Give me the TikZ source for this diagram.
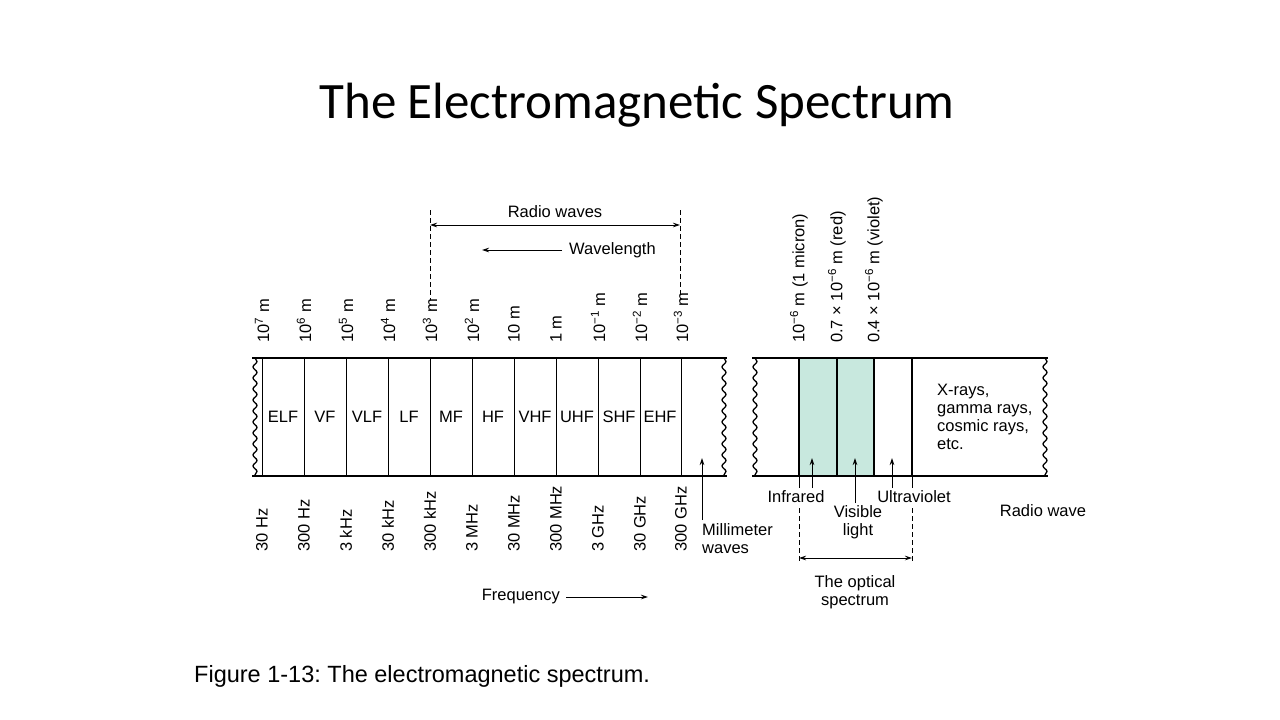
\documentclass[tikz,border=0pt]{standalone}
\usepackage{fontspec}
\setmainfont{Liberation Sans}
\newfontfamily\titlefont{Carlito}
\usetikzlibrary{decorations.pathmorphing,arrows.meta}
\newcommand{\sps}[1]{\textsuperscript{#1}}
\begin{document}
\frenchspacing
\begin{tikzpicture}[x=1pt,y=-1pt,
  lbl/.style={font=\fontsize{16.5}{18}\selectfont,inner sep=0pt},
  rl/.style={lbl,rotate=90,anchor=west},
  wavy/.style={decorate,decoration={snake,amplitude=2,segment length=11}},
  band/.style={line width=1.3pt},
  arr/.style={-{Stealth[length=7pt,width=4.5pt]},line width=0.8pt},
  dashln/.style={dash pattern=on 5pt off 3pt,line width=1pt}]
\useasboundingbox (0,0) rectangle (1280,720);
\node[font=\titlefont\fontsize{51}{56}\selectfont] (title) at (637,105) {The Electromagnetic Spectrum};
% left band
\draw[band] (252,358) -- (727,358) (252,476) -- (727,476);
\draw[band,wavy] (255,358) -- (255,476);
\draw[band,wavy] (724,358) -- (724,476);
\foreach \x in {262,304,346,388,430,472,514,556,598,640,681} \draw[line width=1pt] (\x,358) -- (\x,476);
\foreach \n/\x in {ELF/283,VF/325,VLF/367,LF/409,MF/451,HF/493,VHF/535,UHF/577,SHF/619,EHF/660}
  \node[lbl] (b\n) at (\x,417) {\n};
\foreach \x/\t in {262/{10\sps{7} m},304/{10\sps{6} m},346/{10\sps{5} m},388/{10\sps{4} m},430/{10\sps{3} m},472/{10\sps{2} m},514/{10 m},556/{1 m},598/{10\sps{\textminus 1} m},640/{10\sps{\textminus 2} m},681/{10\sps{\textminus 3} m}}
  \node[rl] at (\x,343) {\t};
\foreach \x/\t in {262/30 Hz,304/300 Hz,346/3 kHz,388/30 kHz,430/300 kHz,472/3 MHz,514/30 MHz,556/300 MHz,598/3 GHz,640/30 GHz,681/300 GHz}
  \node[rl] at (\x,552) {\t};
\coordinate (d1t) at (430,210); \coordinate (d1b) at (430,300);
\coordinate (d2t) at (680,210); \coordinate (d2b) at (680,300);
\draw[dashln] (d1t) -- (d1b); \draw[dashln] (d2t) -- (d2b);
\draw[{Stealth[length=7pt,width=4.5pt]}-{Stealth[length=7pt,width=4.5pt]},line width=0.8pt] (430,225) -- (680,225);
\node[lbl] (rw) at (555,212) {Radio waves};
\node[lbl,anchor=west] (wl) at (569,250) {Wavelength};
\coordinate (wa) at (482,250);
\draw[arr] (562,250) -- (wa);
\node[lbl,anchor=east] (fq) at (560,597) {Frequency};
\coordinate (fa) at (648,597);
\draw[arr] (566,597) -- (fa);
\node[lbl,anchor=north west,align=left] (mm) at (702,523) {Millimeter\\waves};
\coordinate (mmt) at (702,458);
\draw[arr] (702,520) -- (mmt);
% right band
\fill[fill={rgb,255:red,200;green,232;blue,222}] (799,358) rectangle (874,476);
\draw[band] (752,358) -- (1048,358) (752,476) -- (1048,476);
\draw[band,wavy] (755,358) -- (755,476);
\draw[band,wavy] (1045,358) -- (1045,476);
\foreach \x in {799,837,874,912} \draw[line width=1.6pt] (\x,358) -- (\x,476);
\node[rl] at (799,343) {10\sps{\textminus 6} m (1 micron)};
\node[rl] at (837,343) {0.7 \texttimes\ 10\sps{\textminus 6} m (red)};
\node[rl] at (874,343) {0.4 \texttimes\ 10\sps{\textminus 6} m (violet)};
\node[lbl,align=left,anchor=west] (xr) at (937,417) {X-rays,\\gamma rays,\\cosmic rays,\\etc.};
\node[lbl] (ir) at (796,497) {Infrared};
\node[lbl] (uv) at (914,497) {Ultraviolet};
\node[lbl,align=center] (vl) at (858,522) {Visible\\light};
\node[lbl] (rwv) at (1043,511) {Radio wave};
\draw[arr] (812,488) -- (812,458);
\draw[arr] (855,503) -- (855,458);
\draw[arr] (892,488) -- (892,458);
\draw[line width=1pt] (799,476)--(799,488) (912,476)--(912,488);
\draw[dashln] (799,508) -- (799,562); \draw[dashln] (912,508) -- (912,562);
\draw[{Stealth[length=7pt,width=4.5pt]}-{Stealth[length=7pt,width=4.5pt]},line width=0.8pt] (799,558) -- (912,558);
\node[lbl,align=center] (os) at (855,592) {The optical\\spectrum};
\node[font=\fontsize{23.5}{26}\selectfont,anchor=west,inner sep=0pt] (cap) at (194,676) {Figure 1-13: The electromagnetic spectrum.};
\end{tikzpicture}
\end{document}
